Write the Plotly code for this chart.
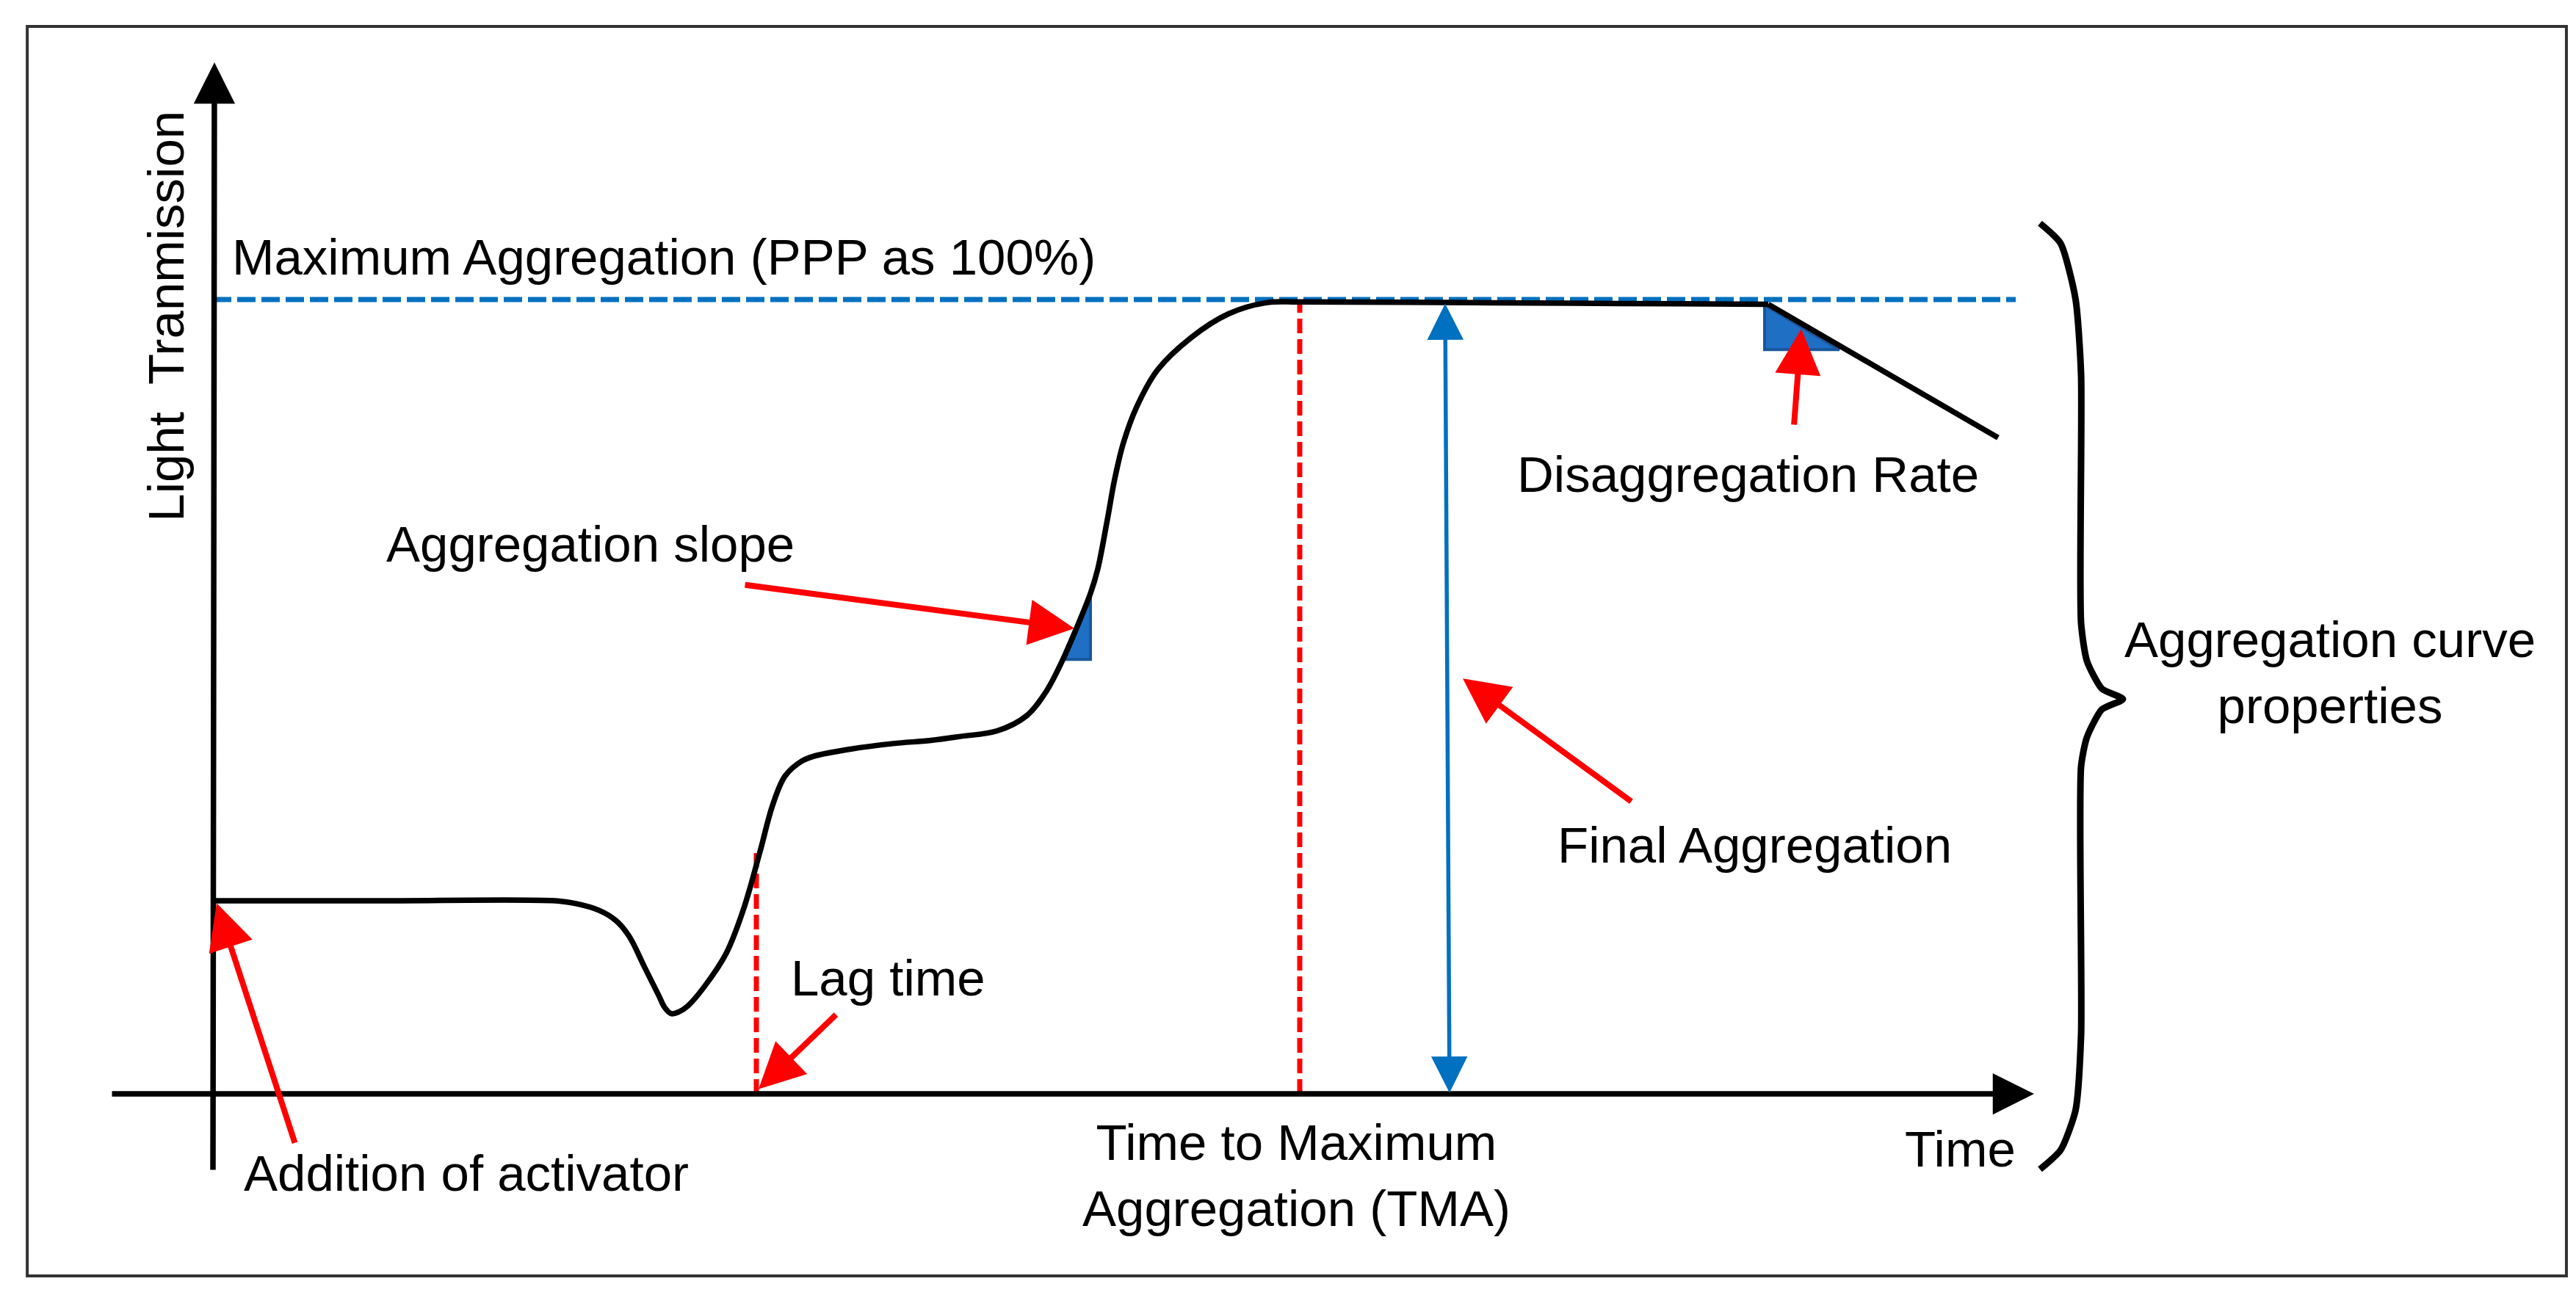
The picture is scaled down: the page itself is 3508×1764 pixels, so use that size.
import plotly.graph_objects as go

# Schematic light transmission aggregometry (LTA) curve
# time in seconds, light transmission in % (PPP = 100 %)
curve_time = [0, 55, 116.5, 123, 131.5, 137.25, 141.75, 146.75, 151.75, 153.75, 156, 158.5,
              161.75, 167.5, 174.75, 180.5, 186.25, 190.5, 194.75, 200.5, 204.5, 217, 231.5,
              244.5, 254.5, 267, 277, 283.75, 289, 293.75, 298.75, 301.25, 304.5, 307, 310,
              314.5, 321.5, 333, 345.75, 358.5, 370, 429.5, 479.5, 529.5]
curve_trans = [24.3, 24.3, 24.3, 24.0, 23.1, 21.8, 19.8, 16.1, 12.4, 10.9, 10.1, 10.3,
               11.1, 13.6, 17.7, 23.1, 30.5, 36.3, 40.0, 41.9, 42.5, 43.4, 44.1,
               44.5, 45.0, 45.7, 47.6, 50.7, 54.4, 58.4, 63.0, 66.1, 72.3, 77.4, 82.0,
               86.5, 91.1, 95.2, 98.2, 99.6, 99.7, 99.6, 99.5, 99.4]

# disaggregation phase (straight decline)
disagg_time = [529.5, 607.75]
disagg_trans = [99.4, 82.6]

max_aggregation = 100
max_line_time = [0, 613.75]

lag_time = 185
lag_trans = 30.5
tma_time = 370
tma_trans = 99.6
final_agg_time = [421, 419.5]
final_agg_trans = [0, 99.5]

# slope markers
slope_tri_time = [289, 298.75, 298.75, 289]
slope_tri_trans = [54.7, 54.7, 63.0, 54.7]
disagg_tri_time = [528.25, 528.25, 553.75, 528.25]
disagg_tri_trans = [99.3, 93.7, 93.7, 99.3]

# axes
y_axis_time = [0, 0.5]
y_axis_trans = [-9.7, 129.85]
x_axis_time = [-34.75, 620]
x_axis_trans = [0, 0]

# curly brace to the right
brace_time = [622, 629, 634.1, 636, 636, 638, 643.1, 650.25, 643.1, 638, 636, 636,
              634.1, 629, 622]
brace_trans = [109.6, 107.1, 100.1, 90.6, 59.3, 54.5, 51.0, 49.7, 48.4, 44.9, 41.2, 7.4,
               -2.1, -7.1, -9.5]

# red callout arrows: (tail_time, tail_trans, tip_time, tip_trans)
callouts = [
    (28, -6.3, 1.25, 24.0),        # addition of activator
    (212.5, 10.1, 185.75, 0.6),    # lag time
    (180.75, 64.1, 293.25, 58.6),  # aggregation slope
    (483.25, 36.7, 425.5, 52.3),   # final aggregation
    (538.25, 84.1, 540.75, 96.3),  # disaggregation rate
]

# text labels: (text, time, trans, anchor, angle)
labels = [
    ("Maximum Aggregation (PPP as 100%)", 6, 105.3, "left", 0),
    ("Light  Tranmission", -15.75, 97.9, "center", -90),
    ("Aggregation slope", 128.5, 69.2, "center", 0),
    ("Addition of activator", 86.25, -10.0, "center", 0),
    ("Lag time", 229.75, 14.6, "center", 0),
    ("Time to Maximum<br>Aggregation (TMA)", 368.75, -10.3, "center", 0),
    ("Time", 594.75, -7.0, "center", 0),
    ("Final Aggregation", 524.75, 31.3, "center", 0),
    ("Disaggregation Rate", 522.5, 78.0, "center", 0),
    ("Aggregation curve<br>properties", 720.75, 53.0, "center", 0),
]

FONT = "Liberation Sans, Arial, sans-serif"
BLUE = "#0070C0"
RED = "#FF0000"

fig = go.Figure()

# dashed reference line for 100 %
fig.add_trace(go.Scatter(x=max_line_time, y=[max_aggregation, max_aggregation], mode="lines",
                         line=dict(color=BLUE, width=7, dash="25px,8px"), hoverinfo="skip"))

# red dashed verticals (lag time, TMA)
fig.add_trace(go.Scatter(x=[lag_time, lag_time], y=[0, lag_trans], mode="lines",
                         line=dict(color=RED, width=7, dash="20px,8px"), hoverinfo="skip"))
fig.add_trace(go.Scatter(x=[tma_time, tma_time], y=[0, tma_trans], mode="lines",
                         line=dict(color=RED, width=7, dash="20px,8px"), hoverinfo="skip"))

# slope triangles
fig.add_trace(go.Scatter(x=slope_tri_time, y=slope_tri_trans, mode="lines", fill="toself",
                         fillcolor="#1F6FC5", line=dict(color="#18579A", width=4),
                         hoverinfo="skip"))
fig.add_trace(go.Scatter(x=disagg_tri_time, y=disagg_tri_trans, mode="lines", fill="toself",
                         fillcolor="#1F6FC5", line=dict(color="#18579A", width=4),
                         hoverinfo="skip"))

# aggregation curve
fig.add_trace(go.Scatter(x=curve_time, y=curve_trans, mode="lines",
                         line=dict(color="black", width=7.5, shape="spline", smoothing=1.0),
                         hoverinfo="skip"))
fig.add_trace(go.Scatter(x=disagg_time, y=disagg_trans, mode="lines",
                         line=dict(color="black", width=7.5), hoverinfo="skip"))

# brace
fig.add_trace(go.Scatter(x=brace_time, y=brace_trans, mode="lines",
                         line=dict(color="black", width=9, shape="spline", smoothing=0.6),
                         hoverinfo="skip"))

# axes with arrow heads
fig.add_annotation(x=y_axis_time[1], y=y_axis_trans[1], ax=y_axis_time[0], ay=y_axis_trans[0],
                   xref="x", yref="y", axref="x", ayref="y", text="", showarrow=True,
                   arrowhead=2, arrowsize=1.5, arrowwidth=7.5, arrowcolor="black")
fig.add_annotation(x=x_axis_time[1], y=x_axis_trans[1], ax=x_axis_time[0], ay=x_axis_trans[0],
                   xref="x", yref="y", axref="x", ayref="y", text="", showarrow=True,
                   arrowhead=2, arrowsize=1.5, arrowwidth=7.5, arrowcolor="black")

# final aggregation double arrow
fig.add_annotation(x=final_agg_time[1], y=final_agg_trans[1], ax=final_agg_time[0],
                   ay=final_agg_trans[0], xref="x", yref="y", axref="x", ayref="y", text="",
                   showarrow=True, arrowhead=2, startarrowhead=2, arrowside="end+start",
                   arrowsize=1.8, startarrowsize=1.8, arrowwidth=5.5, arrowcolor=BLUE)

# red callouts
for t0, y0, t1, y1 in callouts:
    fig.add_annotation(x=t1, y=y1, ax=t0, ay=y0, xref="x", yref="y", axref="x", ayref="y",
                       text="", showarrow=True, arrowhead=2, arrowsize=1.55, arrowwidth=8,
                       arrowcolor=RED)

for text, t, y, anchor, angle in labels:
    fig.add_annotation(x=t, y=y, xref="x", yref="y", text=text, showarrow=False,
                       xanchor=anchor, yanchor="middle", textangle=angle,
                       font=dict(family=FONT, size=69, color="black"))

# outer frame
fig.add_shape(type="rect", xref="paper", yref="paper", x0=0.0083, x1=0.9940,
              y0=0.0193, y1=0.9841, line=dict(color="#333333", width=4))

fig.update_xaxes(range=[-70.5, 806.5], visible=False, fixedrange=True)
fig.update_yaxes(range=[-26.06, 136.97], visible=False, fixedrange=True)
fig.update_layout(width=3508, height=1764, autosize=False, showlegend=False,
                  margin=dict(l=0, r=0, t=0, b=0),
                  plot_bgcolor="white", paper_bgcolor="white")

fig.write_html("out.html")
